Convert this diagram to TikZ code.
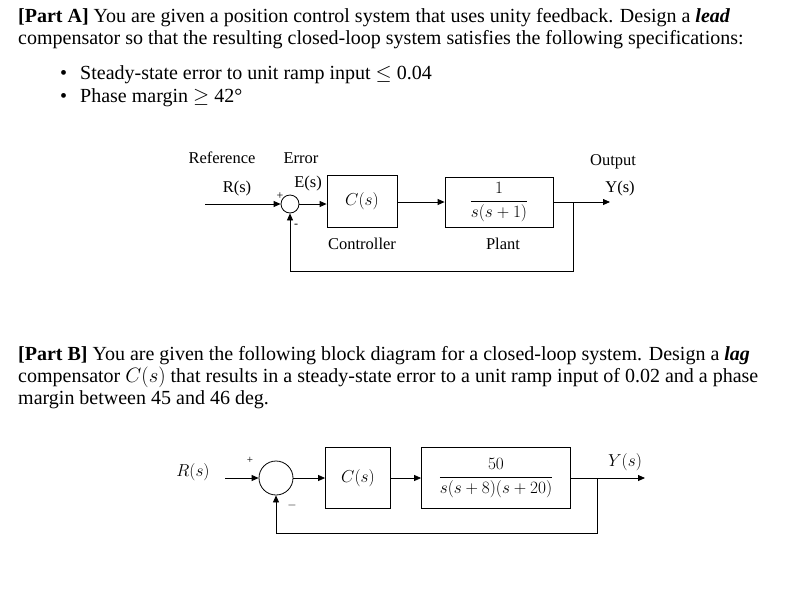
\documentclass[tikz,border=0pt]{standalone}
\usepackage{amsmath,amssymb}
\usepackage{fontspec}
\setmainfont{Liberation Serif}
\usetikzlibrary{arrows.meta}
\begin{document}
\begin{tikzpicture}[x=1pt,y=-1pt,
  txt/.style={anchor=base west,inner sep=0,font=\fontsize{20}{24}\selectfont},
  lbl/.style={inner sep=0,font=\fontsize{16.5}{18}\selectfont},
  blk/.style={draw,thick,minimum width=#1,minimum height=50,inner sep=0,font=\fontsize{16}{18}\selectfont},
  sumc/.style={draw,thick,circle,minimum size=#1,inner sep=0},
  sig/.style={thick,-{Triangle[length=7,width=6]}},
  wire/.style={thick}]
\useasboundingbox (0,0) rectangle (811,598);
% Part A text
\node[txt] (ta1) at (18,22) {\textbf{[Part A]} You are given a position control system that uses unity feedback. Design a \textbf{\textit{lead}}};
\node[txt] (ta2) at (18,44) {compensator so that the resulting closed-loop system satisfies the following specifications:};
\node[txt] (b1) at (60,79) {•};
\node[txt] (ta3) at (80,79) {Steady-state error to unit ramp input $\leq$ 0.04};
\node[txt] (b2) at (60,102) {•};
\node[txt] (ta4) at (80,102) {Phase margin $\geq$ 42°};
% Diagram A
\coordinate (ina) at (205,204);
\node[sumc=18] (sa) at (290,204) {};
\node[blk=70,minimum height=52] (ca) at (362,201) {$C(s)$};
\node[blk=108] (pa) at (499,202) {$\dfrac{1}{s(s+1)}$};
\coordinate (bra) at (573,204);
\coordinate (outa) at (610,204);
\draw[sig] (ina) -- (sa.west);
\draw[sig] (sa.east) -- (ca.west|-sa);
\draw[sig] (ca.east|-pa) -- (pa.west);
\draw[wire] (pa.east) -- (pa.east-|bra);
\draw[sig] (pa.east-|bra) -- (outa|-pa.east);
\draw[sig] (pa.east-|bra) -- (573,271) -- (290,271) -- (sa.south);
\node[lbl] (l1) at (222,158) {Reference};
\node[lbl] (l2) at (301,158) {Error};
\node[lbl] (l3) at (237,189) {R(s)};
\node[lbl] (l4) at (308,184) {E(s)};
\node[lbl] (l5) at (613,162) {Output};
\node[lbl] (l6) at (620,189) {Y(s)};
\node[lbl] (l7) at (362,244) {Controller};
\node[lbl] (l8) at (503,244) {Plant};
\node[lbl,font=\fontsize{12}{12}\selectfont] (l9) at (280,196) {+};
\node[lbl,font=\fontsize{12}{12}\selectfont] (l10) at (296,226) {-};
% Part B text
\node[txt] (tb1) at (18,360) {\textbf{[Part B]} You are given the following block diagram for a closed-loop system. Design a \textbf{\textit{lag}}};
\node[txt] (tb2) at (18,382) {compensator $C(s)$ that results in a steady-state error to a unit ramp input of 0.02 and a phase};
\node[txt] (tb3) at (18,404) {margin between 45 and 46 deg.};
% Diagram B
\coordinate (inb) at (225,478);
\node[sumc=34] (sb) at (276,478) {};
\node[blk=65,minimum height=61] (cb) at (358,478) {$C(s)$};
\node[blk=149,minimum height=61] (pb) at (496,478) {$\dfrac{50}{s(s+8)(s+20)}$};
\coordinate (brb) at (597,478);
\coordinate (outb) at (645,478);
\draw[sig] (inb) -- (sb.west);
\draw[sig] (sb.east) -- (cb.west);
\draw[sig] (cb.east) -- (pb.west);
\draw[wire] (pb.east) -- (brb);
\draw[sig] (brb) -- (outb);
\draw[sig] (brb) -- (597,533) -- (276,533) -- (sb.south);
\node[lbl,font=\fontsize{16}{18}\selectfont] (m1) at (193,472) {$R(s)$};
\node[lbl,font=\fontsize{16}{18}\selectfont] (m2) at (625,462) {$Y(s)$};
\node[lbl,font=\fontsize{11}{12}\selectfont] (m3) at (250,460) {+};
\node[lbl,font=\fontsize{12}{12}\selectfont] (m4) at (292,505) {$-$};
\end{tikzpicture}
\end{document}
